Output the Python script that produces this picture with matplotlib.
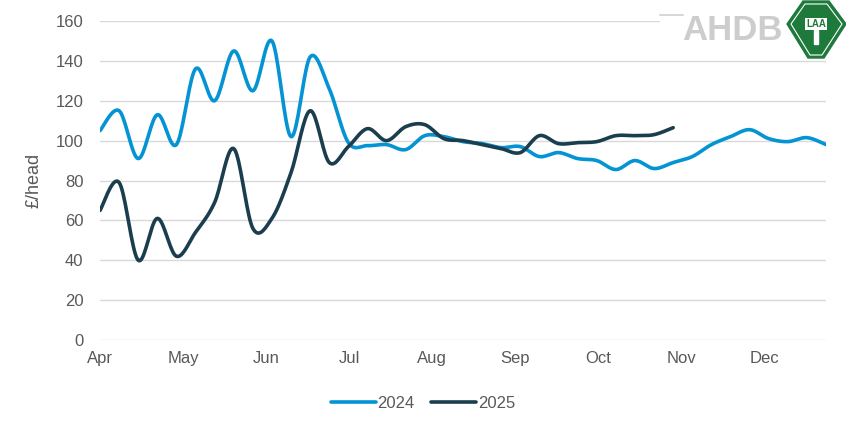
import numpy as np
import matplotlib
matplotlib.use("Agg")
import matplotlib.pyplot as plt
from matplotlib.patches import Polygon, Rectangle
from matplotlib.lines import Line2D

plt.rcParams['font.family'] = ['Liberation Sans', 'DejaVu Sans']

# weekly prices, week 0 = start of April
months = ["Apr", "May", "Jun", "Jul", "Aug", "Sep", "Oct", "Nov", "Dec"]
price_2024 = [105, 115, 91, 113, 98, 136, 120, 145, 125, 150,
              102, 142, 126, 99, 97.5, 98, 95.5, 102.5, 102, 99.5,
              98.5, 96.5, 97, 92, 94, 91, 90, 85.5, 90, 86,
              89, 92, 98, 102, 105.5, 101, 99.5, 101.5, 98]
price_2025 = [65, 79, 40, 61, 42, 54, 69, 96, 56, 61,
              84, 115, 89, 97, 106, 100, 107, 108, 101, 100,
              98, 96, 94, 102.5, 98.5, 99, 99.5, 102.5, 102.5, 103,
              106.5]

weeks_per_month = 365.25 / 12 / 7
text_grey = "#595959"
W, H = 846, 429


def smooth(y, n=20):
    # excel style smoothed line (catmull-rom bezier)
    y = np.asarray(y, dtype=float)
    x = np.arange(len(y), dtype=float)
    p = np.column_stack([x, y])
    pts = [p[0]]
    for i in range(len(p) - 1):
        p0 = p[i - 1] if i > 0 else p[i]
        p3 = p[i + 2] if i + 2 < len(p) else p[i + 1]
        c1 = p[i] + (p[i + 1] - p0) / 6
        c2 = p[i + 1] - (p3 - p[i]) / 6
        t = np.linspace(0, 1, n)[1:, None]
        seg = ((1 - t) ** 3 * p[i] + 3 * (1 - t) ** 2 * t * c1
               + 3 * (1 - t) * t ** 2 * c2 + t ** 3 * p[i + 1])
        pts.extend(seg)
    pts = np.array(pts)
    return pts[:, 0], pts[:, 1]


def fpx(pts):
    # pixel coords -> figure fraction
    return [[x / W, 1 - y / H] for x, y in pts]


fig = plt.figure(figsize=(W / 100, H / 100), dpi=100)
ax = fig.add_axes([0.1182, 0.2075, 0.8582, 0.7435])

x1, y1 = smooth(price_2024)
x2, y2 = smooth(price_2025)
ax.plot(x1, y1, color="#0494D4", lw=2.6, solid_capstyle='round', label="2024")
ax.plot(x2, y2, color="#1B3E4E", lw=2.6, solid_capstyle='round', label="2025")

ax.set_xlim(0, len(price_2024) - 1)
ax.set_ylim(0, 160)
ax.set_yticks(np.arange(0, 161, 20))
ax.set_xticks([i * weeks_per_month for i in range(len(months))])
ax.set_xticklabels(months)
ax.grid(axis='y', color="#D9D9D9", lw=1.0)
ax.set_axisbelow(True)
for s in ax.spines.values():
    s.set_visible(False)
ax.tick_params(axis='both', length=0, labelsize=12, colors=text_grey)
ax.tick_params(axis='y', pad=12)
ax.tick_params(axis='x', pad=8)
ax.set_ylabel("£/head", fontsize=13, color=text_grey, labelpad=9)

fig.legend(loc='center', bbox_to_anchor=(0.5, 0.06), ncol=2, frameon=False,
           fontsize=12, handlelength=2.7, handletextpad=0.1, columnspacing=1.0,
           labelcolor=text_grey)

# logos
fig.patches.append(Rectangle((660 / W, 1 - 52 / H), 186 / W, 52 / H,
                             transform=fig.transFigure, color="white", zorder=5))
fig.lines.append(Line2D([660 / W, 683 / W], [1 - 15 / H, 1 - 15 / H],
                        transform=fig.transFigure, color="#D0D0D0", lw=1.2, zorder=6))
fig.text(732 / W, 1 - 31 / H, "AHDB", fontsize=25, fontweight='bold', color="#CDCDCD",
         ha='center', va='center', zorder=6)
outer = [(803, 1), (829, 1), (846, 24), (824, 58), (808, 58), (787, 24)]
inner = [(805, 4), (827, 4), (842, 24), (822, 55), (810, 55), (791, 24)]
fig.patches.append(Polygon(fpx(outer), closed=True, transform=fig.transFigure,
                           facecolor="#1D7A3B", edgecolor="#1D7A3B", lw=1, zorder=6))
fig.patches.append(Polygon(fpx(inner), closed=True, transform=fig.transFigure,
                           facecolor="none", edgecolor="white", lw=0.8, zorder=7))
fig.text(816 / W, 1 - 24 / H, "LAA", fontsize=7, fontweight='bold', color="#1D7A3B",
         ha='center', va='center', zorder=8,
         bbox=dict(boxstyle='square,pad=0.15', facecolor='white', edgecolor='none'))
fig.patches.append(Rectangle((814 / W, 1 - 44 / H), 4 / W, 14 / H,
                             transform=fig.transFigure, color="white", zorder=8))

fig.savefig("out.png", dpi=100)
plt.close(fig)
